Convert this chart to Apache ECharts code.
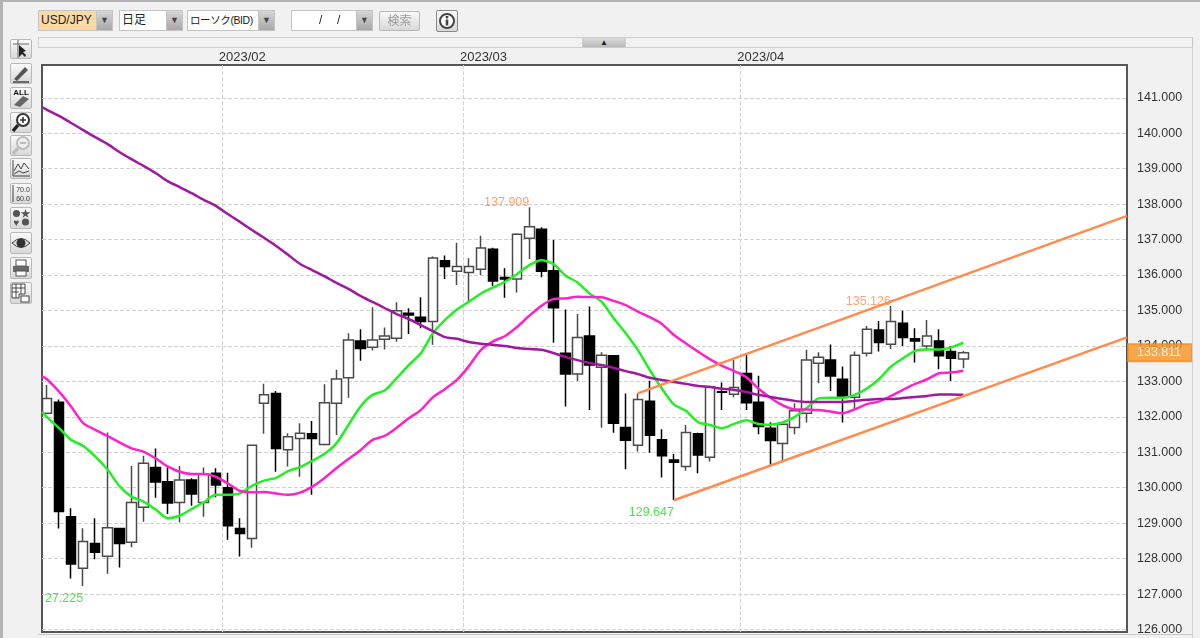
<!DOCTYPE html>
<html>
<head>
<meta charset="utf-8">
<title>USD/JPY</title>
<script src="https://cdn.jsdelivr.net/npm/echarts@6/dist/echarts.min.js"></script>
<style>
html, body { margin: 0; padding: 0; background: #f1f1f1; overflow: hidden; }
body { width: 1200px; height: 638px; position: relative; font-family: "Liberation Sans", "Noto Sans CJK JP", sans-serif; font-size: 12px; color: #222; }
#chart { position: absolute; left: 0; top: 0; width: 1200px; height: 638px; }
.abs { position: absolute; box-sizing: border-box; }
.box { background: #fff; border: 1px solid #c4c4c4; line-height: 19px; padding-left: 2px; white-space: pre; }
.arrow { background: linear-gradient(#d6d6d6, #a8a8a8); border: 1px solid #c4c4c4; color: #444; text-align: center; font-size: 9px; line-height: 19px; }
.btn { background: linear-gradient(#fafafa, #d8d8d8); border: 1px solid #b8b8b8; border-radius: 2px; text-align: center; overflow: hidden; }
</style>
</head>
<body>
<div id="chart"></div>
<div class="abs" style="left:0;top:0;width:3px;height:638px;background:#b4b4b4"></div>
<div class="abs" style="left:0;top:0;width:1200px;height:2px;background:#b4b4b4"></div>
<div class="abs" style="left:38px;top:37px;width:1155px;height:11px;border:1px solid #d2d2d2;border-right-color:#c4c4c4;background:#f1f1f1"></div>
<div class="abs" style="left:582px;top:37px;width:44px;height:11px;background:linear-gradient(#dcdcdc,#b8b8b8);border:1px solid #ccc;color:#222;font-size:8px;line-height:9px;text-align:center">▲</div>
<div class="abs" style="left:1192px;top:47px;width:1px;height:591px;background:#cfcfcf"></div>
<div class="abs" style="left:38px;top:634px;width:1155px;height:1px;background:#c8c8c8"></div>

<div class="abs box" style="left:38px;top:10px;width:59px;height:21px;background:#ffd9a3">USD/JPY</div>
<div class="abs arrow" style="left:96px;top:10px;width:17px;height:21px">▼</div>
<div class="abs box" style="left:119px;top:10px;width:48px;height:21px">日足</div>
<div class="abs arrow" style="left:166px;top:10px;width:17px;height:21px">▼</div>
<div class="abs box" style="left:187px;top:10px;width:72px;height:21px;font-size:10.5px;letter-spacing:-0.4px">ローソク(BID)</div>
<div class="abs arrow" style="left:258px;top:10px;width:17px;height:21px">▼</div>
<div class="abs box" style="left:291px;top:10px;width:66px;height:21px"><span style="position:absolute;left:27px">/</span><span style="position:absolute;left:45px">/</span></div>
<div class="abs arrow" style="left:356px;top:10px;width:17px;height:21px">▼</div>
<div class="abs btn" style="left:379px;top:11px;width:41px;height:20px;color:#999;line-height:18px">検索</div>
<div class="abs btn" style="left:436px;top:10px;width:22px;height:22px;border-color:#888;line-height:20px">
<svg width="18" height="18" viewBox="0 0 18 18" style="margin-top:1px"><circle cx="9" cy="9" r="7" fill="#fff" stroke="#444" stroke-width="2"/><rect x="7.7" y="7.5" width="2.6" height="6" fill="#444"/><rect x="7.7" y="4" width="2.6" height="2.4" fill="#444"/></svg>
</div>
<div id="tools"></div>

<script>
// ローソク足 (左から順に)
var opens = [132.10,132.41,129.18,127.73,128.43,128.07,128.85,128.46,129.45,130.57,130.17,129.58,130.22,129.58,130.41,130.00,128.85,128.57,132.38,132.66,131.07,131.39,131.52,131.22,132.38,133.10,134.14,133.96,134.19,134.22,134.92,134.81,134.69,136.40,136.11,136.07,136.16,136.73,135.93,135.89,137.04,137.29,136.12,133.79,133.21,134.28,133.40,133.72,131.70,131.20,132.44,131.35,130.78,130.60,131.52,130.86,132.71,132.64,133.22,132.41,131.68,131.25,131.70,132.10,133.51,133.60,133.06,132.55,133.79,134.45,134.05,134.64,134.20,134.00,134.14,133.84,133.63];
var closes = [132.52,129.33,127.85,128.48,128.18,128.87,128.43,129.58,130.69,130.16,129.57,130.22,129.82,130.39,130.08,128.93,128.71,131.20,132.62,131.11,131.44,131.54,131.39,132.40,133.07,134.17,133.93,134.17,134.28,134.99,134.87,134.69,136.48,136.24,136.24,136.24,136.76,135.83,135.89,137.15,137.36,136.11,135.08,133.21,134.24,133.46,133.74,131.82,131.34,132.49,131.48,130.90,130.72,131.56,130.92,132.85,132.69,132.83,132.40,131.73,131.33,131.79,132.17,133.60,133.68,133.15,132.55,133.74,134.47,134.10,134.69,134.24,134.14,134.28,133.72,133.65,133.811];
var lows = [132.10,128.85,127.44,127.225,127.98,127.57,127.75,128.32,129.04,129.72,129.26,129.02,129.49,129.18,129.73,128.53,128.06,128.31,131.52,130.45,130.60,130.31,129.80,131.19,131.49,132.54,133.58,133.87,133.90,134.12,134.34,134.50,134.03,135.89,135.72,135.25,136.00,135.69,135.36,135.51,136.45,135.94,134.09,132.29,133.01,132.19,131.69,131.55,130.52,131.02,130.99,130.29,129.647,130.48,130.41,130.74,132.19,132.55,132.19,131.51,130.64,130.72,131.51,131.84,132.95,132.73,131.84,132.19,133.70,133.84,133.91,134.00,133.53,133.87,133.34,133.01,133.37];
var highs = [132.90,132.49,129.42,128.86,129.14,131.56,128.87,130.61,130.90,131.11,130.61,130.61,130.27,130.57,130.55,130.42,129.14,131.20,132.93,132.73,131.54,131.82,131.88,132.92,133.33,134.36,134.47,135.09,134.52,135.23,135.06,135.37,136.52,136.55,136.91,136.47,137.11,136.77,136.19,137.18,137.909,137.35,136.99,135.03,134.90,135.11,133.82,133.74,132.66,132.66,133.02,131.65,130.95,131.77,131.55,132.88,132.97,133.60,133.75,133.16,131.85,131.79,132.38,133.89,133.82,134.04,133.42,133.84,134.56,134.70,135.126,134.99,134.50,134.73,134.47,134.00,133.86];

// 移動平均線
var maGreen = [131.99,131.68,131.35,131.18,130.88,130.52,130.05,129.75,129.61,129.39,129.14,129.21,129.40,129.59,129.80,129.80,129.84,130.05,130.20,130.28,130.47,130.58,130.76,130.95,131.25,131.77,132.29,132.62,132.74,133.09,133.46,133.79,134.36,134.73,135.03,135.25,135.48,135.65,135.81,136.03,136.28,136.42,136.31,135.99,135.79,135.48,135.25,134.78,134.36,133.89,133.32,132.80,132.35,132.17,131.85,131.77,131.68,131.80,131.90,131.80,131.78,131.84,131.99,132.24,132.52,132.54,132.54,132.62,132.80,133.06,133.42,133.65,133.86,133.90,133.90,133.96,134.09];
var maPink = [133.06,132.71,132.29,131.82,131.63,131.46,131.28,131.11,131.02,130.83,130.60,130.45,130.39,130.39,130.31,130.12,129.91,129.87,129.88,129.84,129.80,129.86,130.03,130.27,130.55,130.81,131.06,131.35,131.46,131.69,131.96,132.19,132.55,132.78,133.04,133.43,133.89,134.13,134.28,134.54,134.85,135.13,135.32,135.34,135.39,135.38,135.37,135.27,135.15,134.97,134.81,134.62,134.31,134.07,133.84,133.62,133.44,133.29,133.12,132.80,132.54,132.33,132.21,132.21,132.19,132.15,132.10,132.21,132.36,132.43,132.59,132.76,132.93,133.06,133.23,133.25,133.30];
var maPurple = [140.66,140.49,140.29,140.09,139.89,139.70,139.47,139.27,139.08,138.88,138.65,138.48,138.31,138.12,137.95,137.72,137.50,137.27,137.05,136.82,136.57,136.31,136.14,135.97,135.78,135.61,135.41,135.24,135.07,134.90,134.76,134.59,134.42,134.25,134.20,134.11,134.06,134.03,134.00,133.94,133.91,133.89,133.80,133.69,133.60,133.52,133.46,133.38,133.29,133.21,133.10,133.04,132.98,132.93,132.87,132.84,132.79,132.76,132.70,132.62,132.56,132.50,132.45,132.42,132.42,132.42,132.42,132.45,132.48,132.50,132.50,132.53,132.56,132.59,132.63,132.63,132.62];
// 画面左端での移動平均の値
var maLeftEdge = { green: 132.14, pink: 133.15, purple: 140.74 };

// トレンドライン [足の位置, 価格]
var trendUpper = [[49, 132.66], [89.58, 137.67]];
var trendLower = [[52, 129.647], [89.58, 134.24]];

// 軸
var priceTicks = [126,127,128,129,130,131,132,133,134,135,136,137,138,139,140,141];
var monthTicks = [14.5, 34.5, 57.5];
var monthLabels = ['2023/02', '2023/03', '2023/04'];
var xMin = -0.415, xMax = 89.58, yMin = 125.93, yMax = 141.925;

var lastPrice = 133.811;
// 価格ラベル [足の位置, 価格, 表示]
var orangeNotes = [[40, 137.909, '137.909'], [70, 135.126, '135.126']];
var greenNotes = [[52, 129.647, '129.647'], [3, 127.225, '27.225']];

function withIndex(list, edge) {
	var res = [[xMin, edge]];
	for(var i = 0; i < list.length; i++) {
		res.push([i, list[i]]);
	}
	return res;
}

var candles = [];
for(var i = 0; i < opens.length; i++) {
	candles.push([i, opens[i], closes[i], lows[i], highs[i]]);
}

function maSeries(name, data, color) {
	return {
		name: name,
		type: 'line',
		data: data,
		showSymbol: false,
		smooth: 0.25,
		z: 5,
		lineStyle: { color: color, width: 2.5 }
	};
}

function noteSeries(name, notes, color, pos, dist) {
	return {
		name: name,
		type: 'scatter',
		symbolSize: 0,
		z: 8,
		data: notes.map(function(n) { return { value: [n[0], n[1]], note: n[2] }; }),
		label: {
			show: true,
			position: pos,
			distance: dist,
			align: 'right',
			color: color,
			fontSize: 12.5,
			fontFamily: 'Liberation Sans',
			formatter: function(p) { return p.data.note; }
		}
	};
}

var chart = echarts.init(document.getElementById('chart'), null, { renderer: 'canvas' });
chart.setOption({
	animation: false,
	backgroundColor: 'transparent',
	grid: { left: 42, right: 73, top: 65, bottom: 6, show: true, backgroundColor: '#fff', borderColor: '#555', borderWidth: 2 },
	xAxis: {
		type: 'value',
		position: 'top',
		min: xMin,
		max: xMax,
		axisLine: { show: false },
		axisTick: { show: false, customValues: monthTicks },
		splitLine: { show: true, lineStyle: { color: '#d2d2d2', type: 'dashed' } },
		axisLabel: {
			customValues: monthTicks,
			align: 'left',
			margin: 1,
			padding: [0, 0, 0, -3],
			color: '#333',
			fontSize: 13,
			fontFamily: 'Liberation Sans',
			formatter: function(v) { return monthLabels[monthTicks.indexOf(v)]; }
		}
	},
	yAxis: {
		type: 'value',
		position: 'right',
		min: yMin,
		max: yMax,
		axisLine: { show: false },
		axisTick: { show: false, customValues: priceTicks },
		splitLine: { show: true, lineStyle: { color: '#d2d2d2', type: 'dashed' } },
		axisLabel: {
			customValues: priceTicks,
			margin: 10,
			color: '#333',
			fontSize: 12.5,
			fontFamily: 'Liberation Sans',
			formatter: function(v) { return v.toFixed(3); }
		}
	},
	series: [
		{
			name: 'ローソク',
			type: 'candlestick',
			data: candles,
			encode: { x: 0, y: [1, 2, 3, 4] },
			barWidth: 10,
			z: 3,
			itemStyle: { color: '#fff', color0: '#000', borderColor: '#4a4a4a', borderColor0: '#000', borderWidth: 1.5 }
		},
		maSeries('MA短期', withIndex(maGreen, maLeftEdge.green), '#22f022'),
		maSeries('MA中期', withIndex(maPink, maLeftEdge.pink), '#ff22cc'),
		maSeries('MA長期', withIndex(maPurple, maLeftEdge.purple), '#a0189e'),
		{ name: 'トレンド上', type: 'line', data: trendUpper, showSymbol: false, z: 6, lineStyle: { color: '#ff8c4c', width: 2.5 } },
		{ name: 'トレンド下', type: 'line', data: trendLower, showSymbol: false, z: 6, lineStyle: { color: '#ff8c4c', width: 2.5 } },
		noteSeries('高値', orangeNotes, '#ff8c4c', 'top', -2),
		noteSeries('安値', greenNotes, '#22dd22', 'bottom', 6),
		{
			name: '現在値',
			type: 'scatter',
			symbolSize: 0,
			z: 9,
			data: [[xMax, lastPrice]],
			label: {
				show: true,
				position: 'right',
				distance: 1,
				width: 55,
				height: 17,
				lineHeight: 17,
				align: 'left',
				padding: [0, 0, 0, 9],
				color: '#fff',
				fontSize: 12.5,
				fontFamily: 'Liberation Sans',
				backgroundColor: '#fa9420',
				borderColor: '#e88a20',
				borderWidth: 1,
				formatter: function() { return lastPrice.toFixed(3); }
			}
		}
	]
});

// 左のツールボタン
var toolTops = [39, 63, 87, 112, 135, 158, 183, 207, 232, 257, 282];
var toolHeights = [20, 21, 22, 21, 21, 21, 21, 22, 22, 22, 22];
var toolIcons = [
	'<path d="M2 4H18M7 0V18" stroke="#666" fill="none"/><path d="M8 5L8 17L11 14L14 17L15 15L12 12L15 11Z" fill="#222"/>',
	'<path d="M3 15L14 3L17 6L6 17Z" fill="#555"/><path d="M2 18H18" stroke="#444" stroke-width="1.4"/>',
	'<text x="10" y="7" font-size="8" font-weight="bold" text-anchor="middle" fill="#111" font-family="Liberation Sans">ALL</text><path d="M3 17L12 8L18 11L9 19Z" fill="#666"/>',
	'<circle cx="12" cy="7" r="6" fill="#fff" stroke="#333" stroke-width="2"/><path d="M12 4V10M9 7H15" stroke="#333" stroke-width="1.6"/><path d="M7 12L2 18" stroke="#222" stroke-width="3.4"/>',
	'<circle cx="12" cy="7" r="6" fill="#eee" stroke="#bbb" stroke-width="2"/><path d="M9 7H15" stroke="#aaa" stroke-width="1.6"/><path d="M7 12L2 18" stroke="#bbb" stroke-width="3.4"/>',
	'<path d="M2 1V17H19" stroke="#444" fill="none"/><path d="M3 12L7 5L10 10L13 4L18 10M3 15L8 12L12 14L18 12" stroke="#444" fill="none"/>',
	'<path d="M2 1V18" stroke="#444"/><text x="12" y="8" font-size="7" text-anchor="middle" fill="#333" font-family="Liberation Sans">70.0</text><text x="12" y="17" font-size="7" text-anchor="middle" fill="#333" font-family="Liberation Sans">60.0</text>',
	'<circle cx="5.5" cy="5.5" r="3.6" fill="#555"/><text x="14.5" y="9" font-size="10" text-anchor="middle" fill="#555">★</text><text x="5.5" y="18" font-size="10" text-anchor="middle" fill="#555">♥</text><circle cx="14.5" cy="14" r="3.6" fill="#555"/>',
	'<path d="M1 10Q10 1 19 10Q10 19 1 10Z" fill="#ddd" stroke="#444"/><circle cx="10" cy="10" r="4.5" fill="#333"/>',
	'<rect x="5" y="2" width="10" height="6" fill="#fff" stroke="#555"/><rect x="2" y="8" width="16" height="6" fill="#666"/><rect x="5" y="13" width="10" height="5" fill="#fff" stroke="#555"/>',
	'<path d="M1 1H14V11H8V15H1ZM1 5H14M1 9H8M5 1V15M10 1V11" stroke="#444" fill="#fff"/><rect x="10" y="13" width="8" height="6" fill="#fff" stroke="#444"/>'
];
var toolHtml = '';
for(var t = 0; t < toolTops.length; t++) {
	toolHtml += '<div class="abs btn" style="left:10px;top:' + toolTops[t] + 'px;width:22px;height:' + toolHeights[t] + 'px">' +
		'<svg width="20" height="20" viewBox="0 0 20 20">' + toolIcons[t] + '</svg></div>';
}
document.getElementById('tools').innerHTML = toolHtml;
</script>
</body>
</html>
